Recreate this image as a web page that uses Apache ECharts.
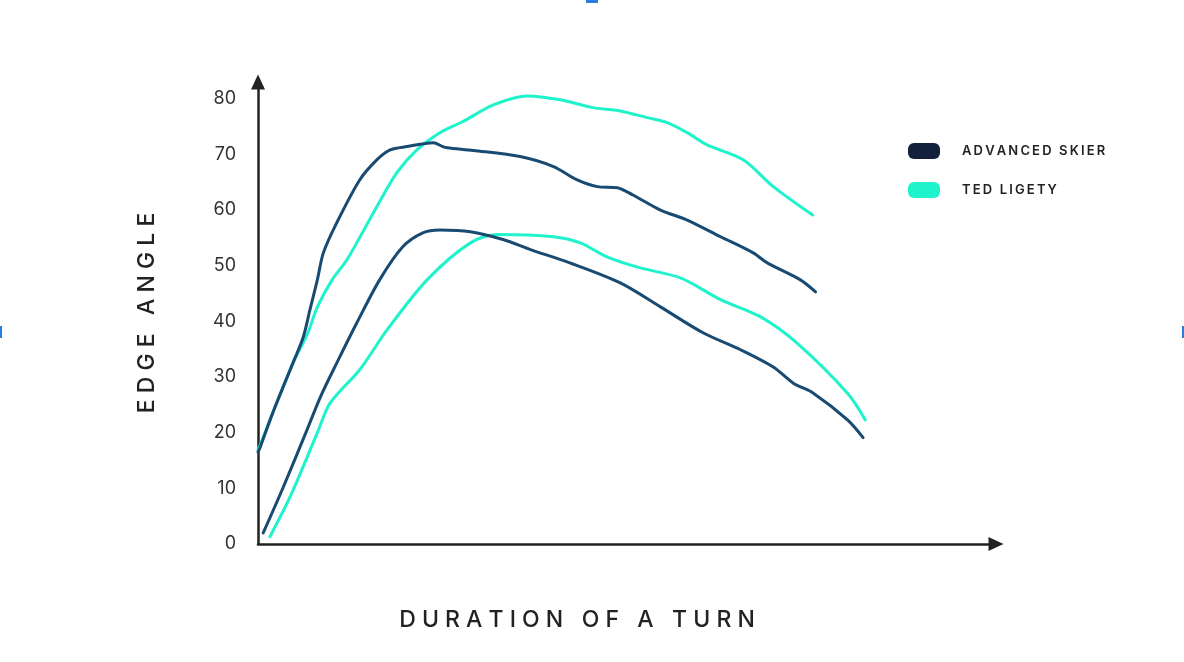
<!DOCTYPE html>
<html>
<head>
<meta charset="utf-8">
<script src="https://cdn.jsdelivr.net/npm/echarts@6/dist/echarts.min.js"></script>
<style>
  html, body { margin: 0; padding: 0; background: #fff; }
  #chart { width: 1184px; height: 662px; }
</style>
</head>
<body>
<div id="chart"></div>
<script>
// duration of turn (0-100), edge angle in degrees
const advancedHigh = [
  [0, 16.5], [0.3, 17.4], [2.0, 23.6], [4.7, 32.5], [6.1, 37.2], [7.0, 42.1],
  [8.0, 47.5], [8.8, 52.3], [10.6, 57.7], [13.7, 65.4], [16.0, 69.0], [17.8, 70.8],
  [20.1, 71.4], [23.6, 72.1], [24.9, 71.4], [25.5, 71.2], [29.0, 70.7], [35.3, 69.6],
  [39.8, 67.8], [43.0, 65.4], [45.7, 64.2], [48.4, 64.0], [50.5, 62.7], [54.2, 60.0],
  [57.8, 58.2], [62.3, 55.2], [66.7, 52.3], [68.6, 50.5], [73.0, 47.5], [75.1, 45.3]
];
const advancedLow = [
  [0.7, 2.0], [3.4, 10.2], [6.6, 20.5], [8.4, 26.4], [10.6, 32.5], [13.3, 39.7],
  [16.4, 47.5], [19.5, 53.4], [22.2, 55.9], [24.5, 56.4], [28.6, 56.1], [33.0, 54.7],
  [36.7, 52.9], [42.0, 50.5], [48.8, 46.9], [54.2, 42.6], [60.0, 37.9], [65.0, 34.9],
  [69.4, 31.8], [72.1, 28.9], [74.8, 27.1], [79.4, 22.3], [81.5, 19.1]
];
const ligetyHigh = [
  [0, 16.9], [0.3, 17.8], [2.0, 23.6], [4.7, 32.5], [6.7, 37.9], [8.0, 42.6],
  [10.0, 47.5], [12.0, 51.1], [16.0, 60.6], [18.7, 66.7], [21.4, 70.8], [24.5, 73.9],
  [27.6, 75.9], [31.7, 78.9], [36.3, 80.5], [40.7, 79.8], [45.1, 78.4], [48.8, 77.8],
  [52.4, 76.6], [55.1, 75.7], [57.8, 73.9], [60.5, 71.7], [65.4, 69.0], [69.4, 64.2],
  [74.7, 59.1]
];
const ligetyLow = [
  [1.6, 1.3], [4.3, 8.4], [8.0, 20.0], [9.7, 25.3], [13.7, 31.3], [17.4, 38.5],
  [22.8, 47.5], [28.6, 54.1], [32.2, 55.6], [39.8, 55.2], [43.4, 54.1], [47.0, 51.6],
  [51.5, 49.6], [56.9, 47.8], [62.3, 43.9], [67.7, 40.8], [72.6, 36.1], [79.4, 27.1],
  [81.8, 22.3]
];
const seriesNames = ['ADVANCED SKIER', 'TED LIGETY'];
const yTicks = [0, 10, 20, 30, 40, 50, 60, 70, 80];

const navy = '#13213d';
const darkLine = '#184a72';
const aqua = '#1ff3cc';
const axisColor = '#222';
const font = 'Inter, "Noto Sans", sans-serif';

const spaced = s => s.split('').join('\u2009');

const chart = echarts.init(document.getElementById('chart'));

function lineSeries(name, data, color) {
  return {
    name: name,
    type: 'line',
    data: data,
    smooth: 0.3,
    symbol: 'none',
    showSymbol: false,
    lineStyle: { width: 3, color: color, cap: 'round' },
    itemStyle: { color: color },
    z: color === aqua ? 2 : 3
  };
}

const pill = 'path://M6,0 H26 A6,6 0 0 1 32,6 V10 A6,6 0 0 1 26,16 H6 A6,6 0 0 1 0,10 V6 A6,6 0 0 1 6,0 Z';

const option = {
  animation: false,
  backgroundColor: '#fff',
  grid: { left: 258, right: 188, top: 82, bottom: 118 },
  legend: {
    orient: 'vertical',
    left: 903,
    top: 138,
    itemWidth: 32,
    itemHeight: 16,
    itemGap: 23,
    icon: pill,
    formatter: name => spaced(name),
    textStyle: { fontFamily: font, fontSize: 13, fontWeight: 600, color: axisColor, padding: [0, 0, 0, 17] },
    data: [
      { name: seriesNames[0], itemStyle: { color: navy } },
      { name: seriesNames[1], itemStyle: { color: aqua } }
    ]
  },
  xAxis: {
    type: 'value',
    min: 0,
    max: 99.4,
    name: 'D U R A T I O N   O F   A   T U R N',
    nameLocation: 'middle',
    nameGap: 65,
    nameTextStyle: { fontFamily: font, fontSize: 23, fontWeight: 500, color: axisColor, padding: [0, 100, 0, 0] },
    axisLine: { show: true, lineStyle: { color: axisColor, width: 2.5 }, symbol: ['none', 'triangle'], symbolSize: [14, 15] },
    axisTick: { show: false },
    axisLabel: { show: false },
    splitLine: { show: false }
  },
  yAxis: {
    type: 'value',
    min: 0,
    max: 83,
    interval: 10,
    name: 'E D G E   A N G L E',
    nameLocation: 'middle',
    nameGap: 99,
    nameRotate: 90,
    nameTextStyle: { fontFamily: font, fontSize: 23, fontWeight: 500, color: axisColor },
    axisLine: { show: true, lineStyle: { color: axisColor, width: 2.5 }, symbol: ['none', 'triangle'], symbolSize: [14, 15] },
    axisTick: { show: false },
    axisLabel: {
      margin: 22,
      fontFamily: font,
      fontSize: 18,
      color: '#333',
      formatter: v => (yTicks.indexOf(v) >= 0 ? String(v) : '')
    },
    splitLine: { show: false }
  },
  graphic: [
    { type: 'rect', left: 586, top: 0, shape: { width: 12, height: 3 }, style: { fill: '#2a7de1' } },
    { type: 'rect', left: 0, top: 326, shape: { width: 2, height: 12 }, style: { fill: '#2a7de1' } },
    { type: 'rect', left: 1182, top: 326, shape: { width: 2, height: 12 }, style: { fill: '#2a7de1' } }
  ],
  series: [
    lineSeries(seriesNames[1], ligetyHigh, aqua),
    lineSeries(seriesNames[1], ligetyLow, aqua),
    lineSeries(seriesNames[0], advancedHigh, darkLine),
    lineSeries(seriesNames[0], advancedLow, darkLine)
  ]
};

chart.setOption(option);
</script>
</body>
</html>
